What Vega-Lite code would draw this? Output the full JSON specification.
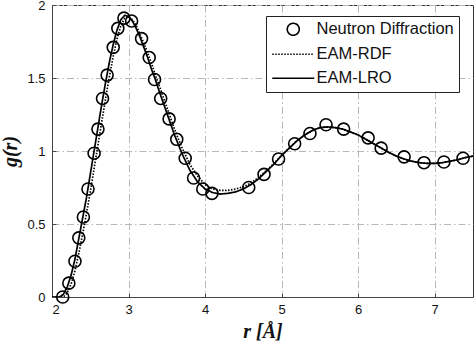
{
  "$schema": "https://vega.github.io/schema/vega-lite/v6.json",
  "width": 421,
  "height": 292,
  "autosize": "none",
  "padding": {"left": 52, "top": 5, "right": 1, "bottom": 48},
  "background": "white",
  "config": {
    "view": {"stroke": "#333", "strokeWidth": 1},
    "font": "Liberation Sans",
    "axis": {
      "labelFont": "Liberation Sans",
      "labelFontSize": 13,
      "labelColor": "#111",
      "domainColor": "#444",
      "ticks": true,
      "tickSize": -4,
      "tickColor": "#444",
      "gridColor": "#b8b8b8",
      "gridDash": [7, 3, 1.5, 3],
      "gridWidth": 1,
      "titleFont": "Liberation Serif",
      "titleFontStyle": "italic",
      "titleFontWeight": "bold",
      "titleFontSize": 20,
      "titleColor": "#111"
    },
    "legend": {
      "orient": "none",
      "legendX": 214,
      "legendY": 11,
      "strokeColor": "#222",
      "fillColor": "white",
      "padding": 5,
      "labelFont": "Liberation Sans",
      "labelFontSize": 16.5,
      "labelColor": "#111",
      "symbolOffset": 14,
      "labelOffset": 15,
      "rowPadding": 7,
      "symbolStrokeColor": "black",
      "symbolStrokeWidth": 1.6,
      "symbolSize": 144
    }
  },
  "datasets": {
    "nd": [
      {"r": 2.14, "g": 0.0, "series": "Neutron Diffraction"},
      {"r": 2.22, "g": 0.095, "series": "Neutron Diffraction"},
      {"r": 2.3, "g": 0.245, "series": "Neutron Diffraction"},
      {"r": 2.35, "g": 0.405, "series": "Neutron Diffraction"},
      {"r": 2.41, "g": 0.548, "series": "Neutron Diffraction"},
      {"r": 2.47, "g": 0.74, "series": "Neutron Diffraction"},
      {"r": 2.55, "g": 0.985, "series": "Neutron Diffraction"},
      {"r": 2.6, "g": 1.15, "series": "Neutron Diffraction"},
      {"r": 2.66, "g": 1.36, "series": "Neutron Diffraction"},
      {"r": 2.72, "g": 1.52, "series": "Neutron Diffraction"},
      {"r": 2.8, "g": 1.71, "series": "Neutron Diffraction"},
      {"r": 2.86, "g": 1.84, "series": "Neutron Diffraction"},
      {"r": 2.94, "g": 1.91, "series": "Neutron Diffraction"},
      {"r": 3.04, "g": 1.89, "series": "Neutron Diffraction"},
      {"r": 3.17, "g": 1.77, "series": "Neutron Diffraction"},
      {"r": 3.27, "g": 1.64, "series": "Neutron Diffraction"},
      {"r": 3.34, "g": 1.49, "series": "Neutron Diffraction"},
      {"r": 3.42, "g": 1.36, "series": "Neutron Diffraction"},
      {"r": 3.53, "g": 1.22, "series": "Neutron Diffraction"},
      {"r": 3.63, "g": 1.08, "series": "Neutron Diffraction"},
      {"r": 3.74, "g": 0.95, "series": "Neutron Diffraction"},
      {"r": 3.85, "g": 0.815, "series": "Neutron Diffraction"},
      {"r": 3.97, "g": 0.74, "series": "Neutron Diffraction"},
      {"r": 4.09, "g": 0.71, "series": "Neutron Diffraction"},
      {"r": 4.57, "g": 0.75, "series": "Neutron Diffraction"},
      {"r": 4.77, "g": 0.84, "series": "Neutron Diffraction"},
      {"r": 4.96, "g": 0.945, "series": "Neutron Diffraction"},
      {"r": 5.17, "g": 1.05, "series": "Neutron Diffraction"},
      {"r": 5.37, "g": 1.12, "series": "Neutron Diffraction"},
      {"r": 5.58, "g": 1.18, "series": "Neutron Diffraction"},
      {"r": 5.81, "g": 1.15, "series": "Neutron Diffraction"},
      {"r": 6.13, "g": 1.09, "series": "Neutron Diffraction"},
      {"r": 6.3, "g": 1.02, "series": "Neutron Diffraction"},
      {"r": 6.6, "g": 0.96, "series": "Neutron Diffraction"},
      {"r": 6.86, "g": 0.92, "series": "Neutron Diffraction"},
      {"r": 7.12, "g": 0.925, "series": "Neutron Diffraction"},
      {"r": 7.37, "g": 0.95, "series": "Neutron Diffraction"}
    ],
    "lines": [
      {"r": 2.0, "g": 0.0, "series": "EAM-RDF"},
      {"r": 2.15, "g": 0.0, "series": "EAM-RDF"},
      {"r": 2.2, "g": 0.03, "series": "EAM-RDF"},
      {"r": 2.25, "g": 0.09, "series": "EAM-RDF"},
      {"r": 2.3, "g": 0.18, "series": "EAM-RDF"},
      {"r": 2.35, "g": 0.3, "series": "EAM-RDF"},
      {"r": 2.4, "g": 0.43, "series": "EAM-RDF"},
      {"r": 2.45, "g": 0.57, "series": "EAM-RDF"},
      {"r": 2.5, "g": 0.72, "series": "EAM-RDF"},
      {"r": 2.55, "g": 0.88, "series": "EAM-RDF"},
      {"r": 2.6, "g": 1.04, "series": "EAM-RDF"},
      {"r": 2.65, "g": 1.2, "series": "EAM-RDF"},
      {"r": 2.7, "g": 1.36, "series": "EAM-RDF"},
      {"r": 2.75, "g": 1.51, "series": "EAM-RDF"},
      {"r": 2.8, "g": 1.65, "series": "EAM-RDF"},
      {"r": 2.85, "g": 1.77, "series": "EAM-RDF"},
      {"r": 2.9, "g": 1.86, "series": "EAM-RDF"},
      {"r": 2.95, "g": 1.91, "series": "EAM-RDF"},
      {"r": 3.0, "g": 1.92, "series": "EAM-RDF"},
      {"r": 3.05, "g": 1.9, "series": "EAM-RDF"},
      {"r": 3.1, "g": 1.86, "series": "EAM-RDF"},
      {"r": 3.15, "g": 1.8, "series": "EAM-RDF"},
      {"r": 3.2, "g": 1.74, "series": "EAM-RDF"},
      {"r": 3.25, "g": 1.67, "series": "EAM-RDF"},
      {"r": 3.3, "g": 1.6, "series": "EAM-RDF"},
      {"r": 3.35, "g": 1.52, "series": "EAM-RDF"},
      {"r": 3.4, "g": 1.45, "series": "EAM-RDF"},
      {"r": 3.5, "g": 1.3, "series": "EAM-RDF"},
      {"r": 3.6, "g": 1.15, "series": "EAM-RDF"},
      {"r": 3.7, "g": 1.02, "series": "EAM-RDF"},
      {"r": 3.8, "g": 0.91, "series": "EAM-RDF"},
      {"r": 3.9, "g": 0.83, "series": "EAM-RDF"},
      {"r": 4.0, "g": 0.77, "series": "EAM-RDF"},
      {"r": 4.1, "g": 0.74, "series": "EAM-RDF"},
      {"r": 4.2, "g": 0.73, "series": "EAM-RDF"},
      {"r": 4.3, "g": 0.73, "series": "EAM-RDF"},
      {"r": 4.4, "g": 0.74, "series": "EAM-RDF"},
      {"r": 4.5, "g": 0.755, "series": "EAM-RDF"},
      {"r": 4.6, "g": 0.78, "series": "EAM-RDF"},
      {"r": 4.7, "g": 0.82, "series": "EAM-RDF"},
      {"r": 4.8, "g": 0.865, "series": "EAM-RDF"},
      {"r": 4.9, "g": 0.915, "series": "EAM-RDF"},
      {"r": 5.0, "g": 0.97, "series": "EAM-RDF"},
      {"r": 5.1, "g": 1.02, "series": "EAM-RDF"},
      {"r": 5.2, "g": 1.07, "series": "EAM-RDF"},
      {"r": 5.3, "g": 1.11, "series": "EAM-RDF"},
      {"r": 5.4, "g": 1.14, "series": "EAM-RDF"},
      {"r": 5.5, "g": 1.16, "series": "EAM-RDF"},
      {"r": 5.6, "g": 1.165, "series": "EAM-RDF"},
      {"r": 5.7, "g": 1.16, "series": "EAM-RDF"},
      {"r": 5.8, "g": 1.15, "series": "EAM-RDF"},
      {"r": 5.9, "g": 1.13, "series": "EAM-RDF"},
      {"r": 6.0, "g": 1.11, "series": "EAM-RDF"},
      {"r": 6.1, "g": 1.08, "series": "EAM-RDF"},
      {"r": 6.2, "g": 1.05, "series": "EAM-RDF"},
      {"r": 6.3, "g": 1.02, "series": "EAM-RDF"},
      {"r": 6.4, "g": 0.99, "series": "EAM-RDF"},
      {"r": 6.5, "g": 0.965, "series": "EAM-RDF"},
      {"r": 6.6, "g": 0.945, "series": "EAM-RDF"},
      {"r": 6.7, "g": 0.93, "series": "EAM-RDF"},
      {"r": 6.8, "g": 0.92, "series": "EAM-RDF"},
      {"r": 6.9, "g": 0.915, "series": "EAM-RDF"},
      {"r": 7.0, "g": 0.915, "series": "EAM-RDF"},
      {"r": 7.1, "g": 0.92, "series": "EAM-RDF"},
      {"r": 7.2, "g": 0.93, "series": "EAM-RDF"},
      {"r": 7.3, "g": 0.94, "series": "EAM-RDF"},
      {"r": 7.4, "g": 0.955, "series": "EAM-RDF"},
      {"r": 7.5, "g": 0.965, "series": "EAM-RDF"},
      {"r": 2.0, "g": 0.0, "series": "EAM-LRO"},
      {"r": 2.1, "g": 0.0, "series": "EAM-LRO"},
      {"r": 2.15, "g": 0.02, "series": "EAM-LRO"},
      {"r": 2.2, "g": 0.07, "series": "EAM-LRO"},
      {"r": 2.25, "g": 0.15, "series": "EAM-LRO"},
      {"r": 2.3, "g": 0.26, "series": "EAM-LRO"},
      {"r": 2.35, "g": 0.4, "series": "EAM-LRO"},
      {"r": 2.4, "g": 0.54, "series": "EAM-LRO"},
      {"r": 2.45, "g": 0.68, "series": "EAM-LRO"},
      {"r": 2.5, "g": 0.84, "series": "EAM-LRO"},
      {"r": 2.55, "g": 1.0, "series": "EAM-LRO"},
      {"r": 2.6, "g": 1.16, "series": "EAM-LRO"},
      {"r": 2.65, "g": 1.32, "series": "EAM-LRO"},
      {"r": 2.7, "g": 1.47, "series": "EAM-LRO"},
      {"r": 2.75, "g": 1.61, "series": "EAM-LRO"},
      {"r": 2.8, "g": 1.73, "series": "EAM-LRO"},
      {"r": 2.85, "g": 1.83, "series": "EAM-LRO"},
      {"r": 2.9, "g": 1.9, "series": "EAM-LRO"},
      {"r": 2.95, "g": 1.93, "series": "EAM-LRO"},
      {"r": 3.0, "g": 1.92, "series": "EAM-LRO"},
      {"r": 3.05, "g": 1.89, "series": "EAM-LRO"},
      {"r": 3.1, "g": 1.84, "series": "EAM-LRO"},
      {"r": 3.15, "g": 1.78, "series": "EAM-LRO"},
      {"r": 3.2, "g": 1.71, "series": "EAM-LRO"},
      {"r": 3.25, "g": 1.64, "series": "EAM-LRO"},
      {"r": 3.3, "g": 1.56, "series": "EAM-LRO"},
      {"r": 3.35, "g": 1.49, "series": "EAM-LRO"},
      {"r": 3.4, "g": 1.41, "series": "EAM-LRO"},
      {"r": 3.5, "g": 1.26, "series": "EAM-LRO"},
      {"r": 3.6, "g": 1.11, "series": "EAM-LRO"},
      {"r": 3.7, "g": 0.98, "series": "EAM-LRO"},
      {"r": 3.8, "g": 0.87, "series": "EAM-LRO"},
      {"r": 3.9, "g": 0.79, "series": "EAM-LRO"},
      {"r": 4.0, "g": 0.74, "series": "EAM-LRO"},
      {"r": 4.1, "g": 0.715, "series": "EAM-LRO"},
      {"r": 4.2, "g": 0.705, "series": "EAM-LRO"},
      {"r": 4.3, "g": 0.71, "series": "EAM-LRO"},
      {"r": 4.4, "g": 0.72, "series": "EAM-LRO"},
      {"r": 4.5, "g": 0.74, "series": "EAM-LRO"},
      {"r": 4.6, "g": 0.77, "series": "EAM-LRO"},
      {"r": 4.7, "g": 0.81, "series": "EAM-LRO"},
      {"r": 4.8, "g": 0.86, "series": "EAM-LRO"},
      {"r": 4.9, "g": 0.91, "series": "EAM-LRO"},
      {"r": 5.0, "g": 0.97, "series": "EAM-LRO"},
      {"r": 5.1, "g": 1.02, "series": "EAM-LRO"},
      {"r": 5.2, "g": 1.07, "series": "EAM-LRO"},
      {"r": 5.3, "g": 1.11, "series": "EAM-LRO"},
      {"r": 5.4, "g": 1.14, "series": "EAM-LRO"},
      {"r": 5.5, "g": 1.16, "series": "EAM-LRO"},
      {"r": 5.6, "g": 1.165, "series": "EAM-LRO"},
      {"r": 5.7, "g": 1.16, "series": "EAM-LRO"},
      {"r": 5.8, "g": 1.15, "series": "EAM-LRO"},
      {"r": 5.9, "g": 1.13, "series": "EAM-LRO"},
      {"r": 6.0, "g": 1.11, "series": "EAM-LRO"},
      {"r": 6.1, "g": 1.08, "series": "EAM-LRO"},
      {"r": 6.2, "g": 1.05, "series": "EAM-LRO"},
      {"r": 6.3, "g": 1.02, "series": "EAM-LRO"},
      {"r": 6.4, "g": 0.99, "series": "EAM-LRO"},
      {"r": 6.5, "g": 0.965, "series": "EAM-LRO"},
      {"r": 6.6, "g": 0.945, "series": "EAM-LRO"},
      {"r": 6.7, "g": 0.93, "series": "EAM-LRO"},
      {"r": 6.8, "g": 0.92, "series": "EAM-LRO"},
      {"r": 6.9, "g": 0.915, "series": "EAM-LRO"},
      {"r": 7.0, "g": 0.915, "series": "EAM-LRO"},
      {"r": 7.1, "g": 0.92, "series": "EAM-LRO"},
      {"r": 7.2, "g": 0.93, "series": "EAM-LRO"},
      {"r": 7.3, "g": 0.94, "series": "EAM-LRO"},
      {"r": 7.4, "g": 0.955, "series": "EAM-LRO"},
      {"r": 7.5, "g": 0.965, "series": "EAM-LRO"}
    ]
  },
  "encoding": {
    "x": {
      "field": "r", "type": "quantitative",
      "scale": {"domain": [2, 7.5], "nice": false, "zero": false},
      "axis": {"values": [2, 3, 4, 5, 6, 7], "format": "~g", "title": "r  [Å]", "labelPadding": 10, "titlePadding": 5}
    },
    "y": {
      "field": "g", "type": "quantitative",
      "scale": {"domain": [0, 2], "nice": false},
      "axis": {"values": [0, 0.5, 1, 1.5, 2], "format": "~g", "title": "g(r)", "labelPadding": 11, "titlePadding": 6}
    }
  },
  "layer": [
    {
      "data": {"name": "lines"},
      "mark": {"type": "line", "color": "black", "strokeWidth": 1.7, "clip": true},
      "encoding": {
        "strokeDash": {
          "field": "series", "type": "nominal",
          "scale": {"domain": ["Neutron Diffraction", "EAM-RDF", "EAM-LRO"], "range": [[1, 0], [1.5, 1.5], [1, 0]]},
          "legend": {"title": null}
        }
      }
    },
    {
      "data": {"name": "nd"},
      "mark": {"type": "point", "filled": false, "color": "black", "opacity": 1, "strokeWidth": 1.6, "size": 144},
      "encoding": {
        "shape": {
          "field": "series", "type": "nominal",
          "scale": {"domain": ["Neutron Diffraction", "EAM-RDF", "EAM-LRO"], "range": ["circle", "M-3.5,0L3.5,0", "M-3.5,0L3.5,0"]},
          "legend": {"title": null}
        }
      }
    }
  ]
}
